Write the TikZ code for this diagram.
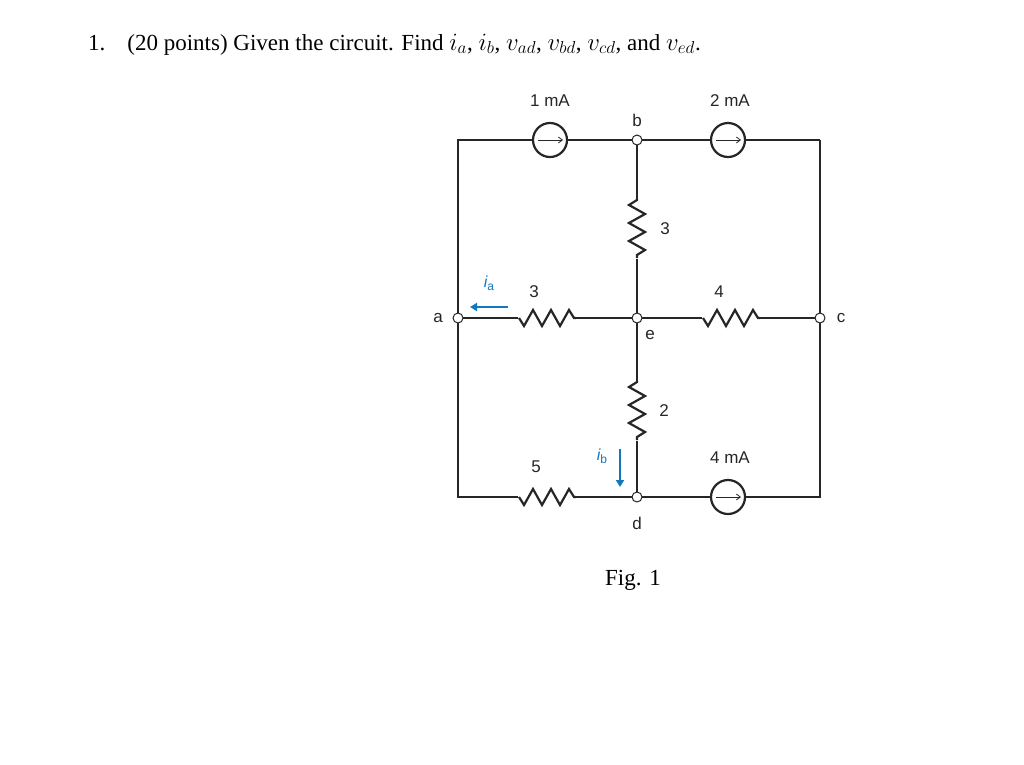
\documentclass[tikz,border=0pt]{standalone}
\usepackage{fontspec}
\setmainfont{Liberation Serif}
\newfontfamily\cirf{Liberation Sans}
\usetikzlibrary{arrows.meta}
\definecolor{cblue}{RGB}{20,120,190}
\begin{document}
\begin{tikzpicture}[x=1pt,y=-1pt,
  wire/.style={line width=2.2pt,black!85},
  term/.style={circle,draw=black!85,line width=1pt,fill=white,minimum size=10pt,inner sep=0pt},
  src/.style={circle,draw=black!85,line width=2.2pt,fill=white,minimum size=34pt,inner sep=0pt},
  lab/.style={font=\cirf\fontsize{17}{17}\selectfont,text=black!85,inner sep=1pt},
  cur/.style={font=\cirf\itshape\fontsize{16}{16}\selectfont,text=cblue,inner sep=0pt}]
\useasboundingbox (0,0) rectangle (1024,764);
\fill[white] (0,0) rectangle (1024,764);
\node[anchor=base west,font=\fontsize{23}{23}\selectfont,inner sep=0] (title) at (88,50)
  {1.\hspace{22pt}(20 points) Given the circuit. Find $i_a$, $i_b$, $v_{ad}$, $v_{bd}$, $v_{cd}$, and $v_{ed}$.};
\node[anchor=base,font=\fontsize{23}{23}\selectfont,inner sep=0] (fig) at (633,585) {Fig. 1};
% corners
\coordinate (tl) at (458,140); \coordinate (tr) at (820,140);
\coordinate (bl) at (458,497); \coordinate (br) at (820,497);
% wires
\draw[wire] (tr) -- (tl) -- (bl) -- (br) -- (tr);
\draw[wire] (458,318) -- (820,318);
\draw[wire] (637,140) -- (637,497);
% white gaps for resistors
\fill[white] (518,308) rectangle (576,328);
\fill[white] (702,308) rectangle (760,328);
\fill[white] (518,487) rectangle (576,507);
\fill[white] (627,199) rectangle (647,259);
\fill[white] (627,381) rectangle (647,441);
% resistors
\foreach \x/\y in {519/318, 703/318, 519/497}{
  \draw[wire,line join=miter] (\x,\y) -- ++(0,0)
    -- ++(5,8) -- ++(9,-16) -- ++(9,16) -- ++(9,-16) -- ++(9,16) -- ++(9,-16) -- ++(5,8) -- ++(2,0);}
\foreach \x/\y in {637/199, 637/381}{
  \draw[wire,line join=miter] (\x,\y) -- ++(0,1)
    -- ++(-8,5) -- ++(16,9) -- ++(-16,9) -- ++(16,9) -- ++(-16,9) -- ++(16,9) -- ++(-8,5) -- ++(0,3);}
% sources
\foreach \n/\x/\y in {s1/550/140, s2/728/140, s3/728/497}{
  \node[src] (\n) at (\x,\y) {};
  \draw[line width=0.8pt,black!85,-{Straight Barb[length=4pt,width=6pt]}] (\x-12,\y) -- (\x+13,\y);}
% terminals
\node[term] (a) at (458,318) {};
\node[term] (b) at (637,140) {};
\node[term] (c) at (820,318) {};
\node[term] (d) at (637,497) {};
\node[term] (e) at (637,318) {};
% labels
\node[lab] at (550,101) {1 mA};
\node[lab] at (730,101) {2 mA};
\node[lab] at (730,458) {4 mA};
\node[lab] at (637,120) {b};
\node[lab] at (637,523) {d};
\node[lab] at (650,335) {e};
\node[lab] at (438,318) {a};
\node[lab] at (841,318) {c};
\node[lab] at (665,229) {3};
\node[lab] at (664,411) {2};
\node[lab] at (534,292) {3};
\node[lab] at (719,292) {4};
\node[lab] at (536,467) {5};
% currents
\draw[cblue,line width=2.6pt,-{Triangle[length=7pt,width=8pt]}] (508,307) -- (470,307);
\node[cur] at (489,283) {i\raisebox{-3pt}{\fontsize{12}{12}\selectfont\upshape a}};
\draw[cblue,line width=2.6pt,-{Triangle[length=7pt,width=8pt]}] (620,449) -- (620,487);
\node[cur] at (602,456) {i\raisebox{-3pt}{\fontsize{12}{12}\selectfont\upshape b}};
\end{tikzpicture}
\end{document}
